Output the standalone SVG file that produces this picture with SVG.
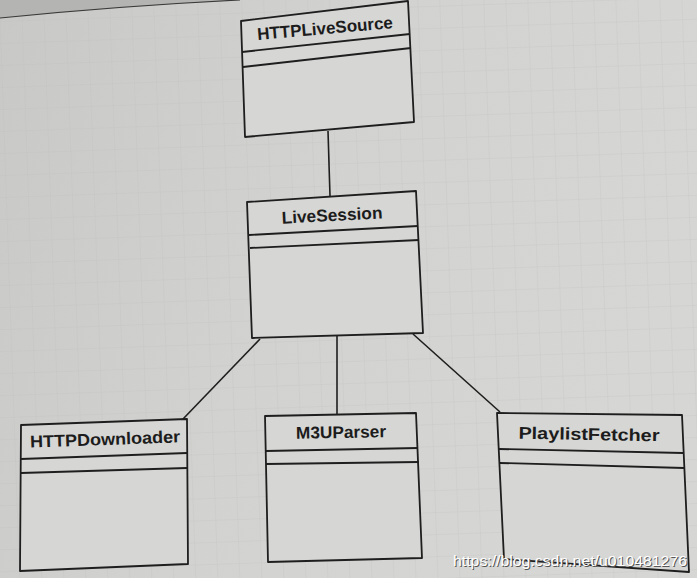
<svg xmlns="http://www.w3.org/2000/svg" width="697" height="578" viewBox="0 0 697 578">
<defs>
<linearGradient id="bg" x1="0" y1="0" x2="1" y2="0.3">
<stop offset="0" stop-color="#c8c8c6"/>
<stop offset="0.5" stop-color="#d2d2d0"/>
<stop offset="1" stop-color="#d6d6d4"/>
</linearGradient>
<pattern id="grid" width="22" height="22" patternUnits="userSpaceOnUse" patternTransform="rotate(-2)">
<path d="M22 0V22M0 22H22" fill="none" stroke="#bdbdbb" stroke-width="0.8"/>
</pattern>
<style>
.box{fill:#d6d6d4;stroke:#1e1e1e;stroke-width:1.8;stroke-linejoin:round}
.div{fill:none;stroke:#1e1e1e;stroke-width:1.8}
.lbl{font-family:"Liberation Sans",Arial,sans-serif;font-weight:bold;font-size:17px;fill:#1c1c1c;text-anchor:middle}
.con{fill:none;stroke:#1e1e1e;stroke-width:1.6}
.wm{font-family:"Liberation Sans",Arial,sans-serif;font-size:15.5px;text-anchor:end}
</style>
</defs>
<rect width="697" height="578" fill="url(#bg)"/>
<rect width="697" height="578" fill="url(#grid)" opacity="0.6"/>
<path d="M0 0H240Q120 6 0 18Z" fill="#b4b4b2"/>
<path d="M0 18Q120 6 240 0" fill="none" stroke="#3a3a3a" stroke-width="1.2"/>
<g id="connectors">
<line class="con" x1="328" y1="131" x2="330" y2="196"/>
<line class="con" x1="260" y1="339" x2="183" y2="419"/>
<line class="con" x1="337" y1="336" x2="337" y2="415"/>
<line class="con" x1="413" y1="334" x2="500" y2="412"/>
</g>
<g id="HTTPLiveSource">
<polygon class="box" points="241,21 408,1 414,122 245,137"/>
<line class="div" x1="242" y1="52" x2="410" y2="34"/>
<line class="div" x1="243" y1="67" x2="411" y2="48"/>
<text class="lbl" x="325" y="34" transform="rotate(-5 325 28)" font-size="17.5" textLength="136" lengthAdjust="spacingAndGlyphs">HTTPLiveSource</text>
</g>
<g id="LiveSession">
<polygon class="box" points="247,202 416,191 423,333 252,338"/>
<line class="div" x1="249" y1="235" x2="418" y2="226"/>
<line class="div" x1="250" y1="248" x2="419" y2="240"/>
<text class="lbl" x="332" y="221" transform="rotate(-3 332 215)" font-size="17.5" textLength="101" lengthAdjust="spacingAndGlyphs">LiveSession</text>
</g>
<g id="HTTPDownloader">
<polygon class="box" points="21,425 187,419 188,564 20,571"/>
<line class="div" x1="21" y1="459" x2="187" y2="453"/>
<line class="div" x1="21" y1="473" x2="187" y2="468"/>
<text class="lbl" x="105" y="445" transform="rotate(-2 105 439)" font-size="18" textLength="150" lengthAdjust="spacingAndGlyphs">HTTPDownloader</text>
</g>
<g id="M3UParser">
<polygon class="box" points="265,416 416,413 422,558 268,562"/>
<line class="div" x1="266" y1="451" x2="418" y2="448"/>
<line class="div" x1="266" y1="464" x2="419" y2="462"/>
<text class="lbl" x="341" y="438" transform="rotate(-1 341 432)" font-size="17.5" textLength="90" lengthAdjust="spacingAndGlyphs">M3UParser</text>
</g>
<g id="PlaylistFetcher">
<polygon class="box" points="497,413 682,415 689,572 504,559"/>
<line class="div" x1="499" y1="449" x2="683" y2="453"/>
<line class="div" x1="500" y1="463" x2="684" y2="468"/>
<text class="lbl" x="589" y="440" transform="rotate(1 589 433)" font-size="19" textLength="141" lengthAdjust="spacingAndGlyphs">PlaylistFetcher</text>
</g>
<text class="wm" x="688" y="567" fill="#555555" textLength="234" lengthAdjust="spacingAndGlyphs">https://blog.csdn.net/u010481276</text>
<text class="wm" x="687" y="566" fill="#ffffff" textLength="234" lengthAdjust="spacingAndGlyphs">https://blog.csdn.net/u010481276</text>
</svg>
